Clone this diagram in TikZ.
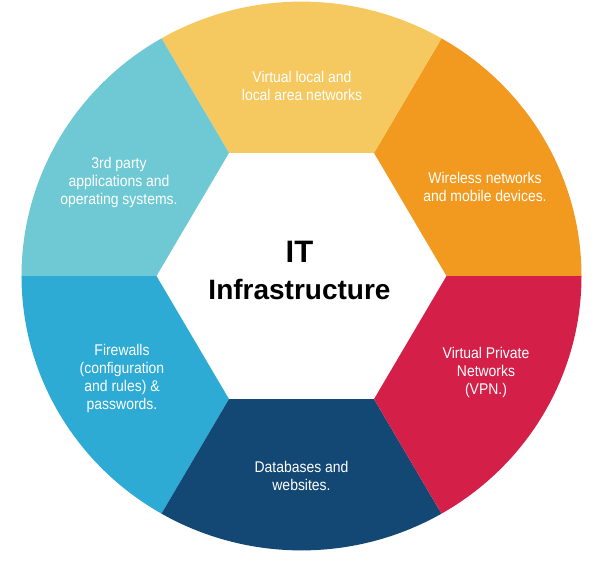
\documentclass[tikz,border=0pt]{standalone}
\usepackage{fontspec}
\setmainfont[FakeStretch=0.9]{Liberation Sans}
\newfontfamily\titlefont{Liberation Sans}
\usetikzlibrary{positioning}
\definecolor{sunny}{HTML}{F5C960}
\definecolor{amber}{HTML}{F29A1F}
\definecolor{crimson}{HTML}{D42048}
\definecolor{navy}{HTML}{134874}
\definecolor{sky}{HTML}{2DABD4}
\definecolor{teal}{HTML}{6FC9D4}

\begin{document}
\begin{tikzpicture}[x=1pt, y=1pt,
    lbl/.style={align=center, text=white, inner sep=0pt,
      font=\fontsize{15.5}{18}\selectfont},
    ttl/.style={inner sep=0pt, font=\titlefont\bfseries\fontsize{28}{30}\selectfont}]
  \useasboundingbox (-301.5,-290) rectangle (297.5,276);
  % ring of six sectors, hexagon hole in the middle
  \begin{scope}[yscale=0.98]
    \foreach \a/\c in {0/amber, 60/sunny, 120/teal, 180/sky, 240/navy, 300/crimson}
      \fill[\c] (\a:145) -- (\a:280) arc[start angle=\a, end angle=\a+60, radius=280]
        -- (\a+60:145) -- cycle;
  \end{scope}
  % labels
  \node[lbl] (lan)  at (0.5,190)     {Virtual local and\\local area networks};
  \node[lbl] (apps) at (-182.5,94)   {3rd party\\applications and\\operating systems.};
  \node[lbl] (wifi) at (183.5,89)    {Wireless networks\\and mobile devices.};
  \node[lbl] (fw)   at (-179.5,-102) {Firewalls\\(configuration\\and rules) \&\\passwords.};
  \node[lbl] (db)   at (0,-200)      {Databases and\\websites.};
  \node[lbl] (vpn)  at (184.5,-96)   {Virtual Private\\Networks\\(VPN.)};
  \node[ttl, font=\titlefont\bfseries\fontsize{31}{33}\selectfont] (it) at (-2,24) {IT};
  \node[ttl, below=16pt of it] (infra) {Infrastructure};
\end{tikzpicture}
\end{document}
